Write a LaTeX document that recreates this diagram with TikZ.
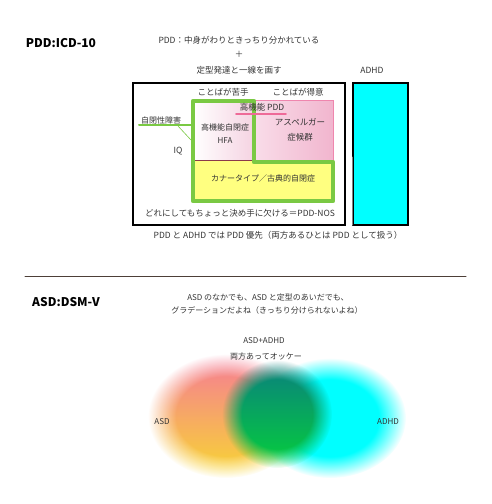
\documentclass[tikz,border=0pt]{standalone}
\usepackage{fontspec}
\setmainfont{Noto Sans CJK JP}
\usepackage{tkz-euclide}
\usetikzlibrary{fadings}
\definecolor{icdgreen}{HTML}{7AC943}
\definecolor{aspink}{HTML}{F1B5CE}
\definecolor{aspinklt}{HTML}{F9DDE9}
\definecolor{asline}{HTML}{EF86AE}
\definecolor{hfapink}{HTML}{F5D3E2}
\definecolor{pddline}{HTML}{EE6A98}
\definecolor{hfaline}{HTML}{8B3A4A}
\definecolor{kanner}{HTML}{FFFF80}
\definecolor{sepline}{HTML}{4D3F38}
\definecolor{adhdcyan}{HTML}{00FFFF}
\definecolor{asdtop}{HTML}{F57A98}
\definecolor{asdmid}{HTML}{F89A58}
\definecolor{asdbot}{HTML}{F8D830}
\definecolor{bothtop}{HTML}{0A7E80}
\definecolor{bothbot}{HTML}{05D03A}
\pgfdeclareradialshading{blobshade}{\pgfpointorigin}{color(0bp)=(white); color(16bp)=(white); color(25bp)=(black); color(50bp)=(black)}
\pgfdeclarefading{blobfade}{\pgfuseshading{blobshade}}
\tikzset{
  lbl/.style={font=\fontsize{8.5}{10}\selectfont, inner sep=0pt, text=black!80},
  lblsm/.style={lbl, font=\fontsize{8}{9.6}\selectfont},
  heading/.style={font=\fontsize{12}{14}\selectfont\bfseries, inner sep=0pt},
  greenedge/.style={draw=icdgreen, line width=4.5pt},
}

\begin{document}
\begin{tikzpicture}[x=1pt,y=-1pt]
        \useasboundingbox (0,0) rectangle (491,504);
        \tkzDefPoint(133,83){M1}
        \tkzDefPoint(345,225){M2}
        \tkzDefPoint(353,83){C1}
        \tkzDefPoint(408,225){C2}
        \tkzDefPoint(352,157){S1}
        \tkzDefPoint(352,225){S2}
        \tkzDefPoint(193,101){G1}
        \tkzDefPoint(254,101){G2}
        \tkzDefPoint(254,162){G3}
        \tkzDefPoint(333,162){G4}
        \tkzDefPoint(333,201){G5}
        \tkzDefPoint(193,201){G6}
        \tkzDefPoint(254,100){P1}
        \tkzDefPoint(333,161){P2}
        \tkzDefPoint(193,160){H1}
        \tkzDefPoint(254,160){H2}
        \tkzDefPoint(139,125){L1}
        \tkzDefPoint(193,125){L2}
        \tkzDefPoint(178,126){D1}
        \tkzDefPoint(191,140){D2}
        \tkzDefPoint(236,114){U1}
        \tkzDefPoint(286,114){U2}
        \tkzDefPoint(25,276){R1}
        \tkzDefPoint(466,276){R2}
        \tkzDefPoint(226,416){asdc}
        \tkzDefPoint(330,418){adhdc}
        \tkzDefPoint(277,414){bothc}
        \draw[line width=1.2pt] (M1) rectangle (M2);
        \draw[line width=1.2pt, fill=adhdcyan] (C1) rectangle (C2);
        \tkzDrawSegment[gray, line width=1pt](S1,S2)
        \shade[left color=white, right color=hfapink] (G1) rectangle (H2);
        \shade[left color=aspinklt, right color=aspink, draw=asline, line width=1pt] (P1) rectangle (P2);
        \fill[kanner] (H1) rectangle (G5);
        \tkzDrawSegment[hfaline, line width=1pt](H1,H2)
        \tkzDrawPolygon[greenedge](G1,G2,G3,G4,G5,G6)
        \tkzDrawSegment[pddline, line width=1.6pt](U1,U2)
        \tkzDrawSegment[icdgreen, line width=2pt](L1,L2)
        \tkzDrawSegment[icdgreen, line width=0.6pt](D1,D2)
        \tkzDrawSegment[sepline, line width=1pt](R1,R2)
        \shade[top color=asdtop, middle color=asdmid, bottom color=asdbot, path fading=blobfade] (asdc) ellipse [x radius=78, y radius=62];
        \fill[adhdcyan, path fading=blobfade] (adhdc) ellipse [x radius=76, y radius=60];
        \shade[top color=bothtop, bottom color=bothbot, path fading=blobfade] (bothc) ellipse [x radius=55, y radius=54];
        \node[heading] (icd) at (61,43) {PDD:ICD-10};
        \node[lbl] (pddnote) at (239,40) {PDD：中身がわりときっちり分かれている};
        \node[lbl] (plus) at (239,54) {＋};
        \node[lbl] (apart) at (239,70) {定型発達と一線を画す};
        \node[lbl] (adhdtop) at (372,70) {ADHD};
        \node[lbl] (weak) at (223,92) {ことばが苦手};
        \node[lbl] (strong) at (298,92) {ことばが得意};
        \node[lbl] (hpdd) at (262,107) {高機能 PDD};
        \node[lblsm] (hfa) at (225,127) {高機能自閉症};
        \node[lblsm] (hfaen) at (225,141) {HFA};
        \node[lbl] (asp) at (300,122) {アスペルガー};
        \node[lbl] (aspsyn) at (300,137) {症候群};
        \node[lblsm] (autism) at (161,120) {自閉性障害};
        \node[lbl] (iq) at (178,151) {IQ};
        \node[lblsm] (kanner) at (263,178) {カナータイプ／古典的自閉症};
        \node[lbl] (nos) at (240,213) {どれにしてもちょっと決め手に欠ける＝PDD-NOS};
        \node[lbl] (prio) at (278,235) {PDD と ADHD では PDD 優先（両方あるひとは PDD として扱う）};
        \node[heading] (dsm) at (66,302) {ASD:DSM-V};
        \node[lblsm] (grad1) at (268,297) {ASD のなかでも、ASD と定型のあいだでも、};
        \node[lblsm] (grad2) at (267,310) {グラデーションだよね（きっちり分けられないよね）};
        \node[lblsm] (both1) at (264,341) {ASD+ADHD};
        \node[lblsm] (both2) at (266,356) {両方あってオッケー};
        \node[lblsm] (asd) at (162,422) {ASD};
        \node[lblsm] (adhd) at (388,422) {ADHD};
    \end{tikzpicture}
\end{document}
